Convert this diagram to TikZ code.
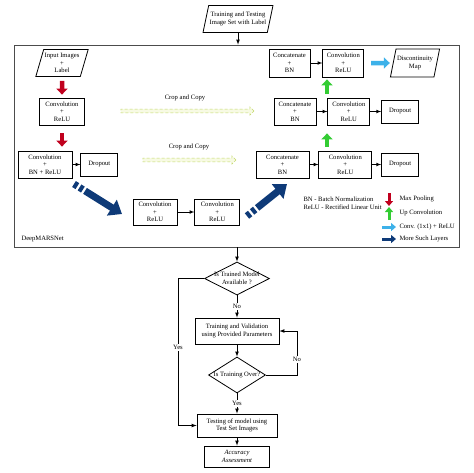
\documentclass[tikz,border=0pt]{standalone}
\usepackage{fontspec}
\setmainfont{Liberation Serif}
\usetikzlibrary{positioning,shapes,arrows,arrows.meta}
\definecolor{poolred}{HTML}{C0001E}
\definecolor{upgreen}{HTML}{33CC33}
\definecolor{onecyan}{HTML}{3DB1E9}
\definecolor{moreblue}{HTML}{0E3A78}
\definecolor{cropline}{HTML}{C3D86A}
\definecolor{cropfill}{HTML}{F7FAE3}

\begin{document}
\begin{tikzpicture}[x=1pt,y=-1pt,
  node distance=9pt and 9pt,
  font=\fontsize{6.6}{7.6}\selectfont,
  rnode/.style={draw,rectangle,line width=0.8pt,align=center,inner sep=1pt,minimum width=45pt,minimum height=27pt},
  dnode/.style={rnode,minimum width=37pt,minimum height=23pt},
  pnode/.style={draw,trapezium,trapezium left angle=70,trapezium right angle=110,trapezium stretches=true,line width=0.8pt,align=center,inner sep=1pt,minimum height=27pt},
  qnode/.style={draw,diamond,line width=0.8pt,inner sep=0pt},
  arr/.style={line width=0.7pt,-latex},
  fat/.style={line width=4.5pt,-{Triangle[length=6pt,width=11pt]}},
  small/.style={line width=3pt,-{Triangle[length=5pt,width=8pt]}},
  big/.style={line width=7pt,moreblue,-{Triangle[length=12pt,width=18pt]},dash pattern=on 4pt off 2.5pt on 4pt off 2.5pt on 80pt off 0pt},
  crop/.style={single arrow,draw=cropline,fill=cropfill,densely dashed,line width=0.6pt,inner sep=1.3pt,minimum width=8pt,single arrow head extend=1.8pt}
]
\useasboundingbox (0,0) rectangle (474,472);

% network
\node[pnode,minimum width=62pt] (data) at (238,19) {Training and Testing\\Image Set with Label};
\node[draw=black!70,line width=0.8pt,minimum width=445pt,minimum height=202pt] (net) at (236.5,146) {};
\node[anchor=west] (netname) at (18,239) {DeepMARSNet};

\node[pnode,minimum width=46pt] (input) at (62,63) {Input Images\\+\\Label};
\node[rnode] (conv1) at (62,111.5) {Convolution\\+\\ReLU};
\node[rnode,minimum width=54pt] (conv2) at (45,164.5) {Convolution\\+\\BN + ReLU};
\node[dnode,right=8pt of conv2] (drop1) {Dropout};
\node[rnode,minimum width=44pt,minimum height=26pt] (conv3) at (155,212) {Convolution\\+\\ReLU};
\node[rnode,minimum height=26pt,right=17pt of conv3] (conv4) {Convolution\\+\\ReLU};

\node[rnode,minimum width=53pt] (cat1) at (282.5,164.5) {Concatenate\\+\\BN};
\node[rnode,minimum width=53pt,right=of cat1] (conv5) {Convolution\\+\\ReLU};
\node[dnode,right=of conv5] (drop2) {Dropout};
\node[rnode,minimum width=42pt] (cat2) at (295,111.5) {Concatenate\\+\\BN};
\node[rnode,minimum width=42pt,right=11pt of cat2] (conv6) {Convolution\\+\\ReLU};
\node[dnode,right=11pt of conv6] (drop3) {Dropout};
\node[rnode,minimum width=41pt,minimum height=28pt] (cat3) at (289.5,63) {Concatenate\\+\\BN};
\node[rnode,minimum width=41pt,minimum height=28pt,right=12pt of cat3] (conv7) {Convolution\\+\\ReLU};
\node[pnode,minimum width=40pt,minimum height=28pt] (map) at (415,63) {Discontinuity\\Map};

\node (crop1) at (185,98) {Crop and Copy};
\node[crop,minimum height=133pt] (croparr1) at (186.5,111) {};
\node (crop2) at (189,147) {Crop and Copy};
\node[crop,minimum height=93pt] (croparr2) at (188.5,160) {};

\draw[arr] (data.south) -- (data.south |- net.north);
\draw[arr] (conv2) -- (drop1);
\draw[arr] (conv3) -- (conv4);
\draw[arr] (cat1) -- (conv5);
\draw[arr] (conv5) -- (drop2);
\draw[arr] (cat2) -- (conv6);
\draw[arr] (conv6) -- (drop3);
\draw[arr] (cat3) -- (conv7);

\coordinate (gx) at (327,0);
\draw[fat,poolred,shorten <=4pt,shorten >=3pt] (input.south) -- (conv1.north);
\draw[fat,poolred,shorten <=8pt,shorten >=4pt] (conv1.south) -- (conv1.south |- conv2.north);
\draw[fat,upgreen,shorten <=4pt,shorten >=8pt] (conv5.north -| gx) -- (conv6.south -| gx);
\draw[fat,upgreen,shorten <=4pt,shorten >=2pt] (conv6.north -| gx) -- (conv7.south -| gx);
\draw[fat,onecyan,shorten <=7pt,shorten >=3pt] (conv7.east) -- (map.west);

\coordinate (down1) at (74,184);
\coordinate (down2) at (122,214);
\coordinate (up1) at (247,216);
\coordinate (up2) at (287,184);
\draw[big] (down1) -- (down2);
\draw[big] (up1) -- (up2);

% legend
\node[anchor=west,align=left] (abbr) at (300,203) {BN - Batch Normalization\\ReLU - Rectified Linear Unit};
\node[anchor=west] (lgpool) at (396,199) {Max Pooling};
\node[anchor=west] (lgup) at (396,213) {Up Convolution};
\node[anchor=west] (lgone) at (396,227) {Conv. (1x1) + ReLU};
\node[anchor=west] (lgmore) at (396,239) {More Such Layers};
\draw[small,poolred] (389,193) -- (389,206);
\draw[small,upgreen] (389,220) -- (389,207);
\draw[small,onecyan] (382,227) -- (396,227);
\draw[small,moreblue] (382,239) -- (396,239);

% flow chart
\node[qnode,minimum width=65pt,minimum height=33pt] (q1) at (237,278.5) {};
\node[align=center] (q1text) at (q1) {Is Trained Model\\Available ?};
\node[rnode,minimum width=84pt,minimum height=26pt] (train) at (237,331) {Training and Validation\\using Provided Parameters};
\node[qnode,minimum width=57pt,minimum height=36pt] (q2) at (237,375) {};
\node (q2text) at (q2) {Is Training Over?};
\node[rnode,minimum width=80pt,minimum height=23pt] (test) at (237,425.5) {Testing of model using\\Test Set Images};
\node[rnode,minimum width=65pt,minimum height=21pt,font=\fontsize{6.6}{7.6}\selectfont\itshape] (acc) at (237,456.5) {Accuracy\\Assessment};

\coordinate (yesx) at (178,0);
\coordinate (nox) at (297,0);
\draw[arr] (net.south -| q1) -- (q1.north);
\draw[arr] (q1.south) -- node[fill=white,inner sep=1pt] {No} (train.north);
\draw[arr] (q1.west) -- (q1.west -| yesx) -- node[fill=white,inner sep=1pt,pos=0.47] {Yes} (test.west -| yesx) -- (test.west);
\draw[arr] (train.south) -- (q2.north);
\draw[arr] (q2.south) -- node[fill=white,inner sep=1pt] {Yes} (test.north);
\draw[arr] (q2.east) -- (q2.east -| nox) -- node[fill=white,inner sep=1pt,pos=0.35] {No} (train.east -| nox) -- (train.east);
\draw[arr] (test.south) -- (acc.north);
\end{tikzpicture}
\end{document}
